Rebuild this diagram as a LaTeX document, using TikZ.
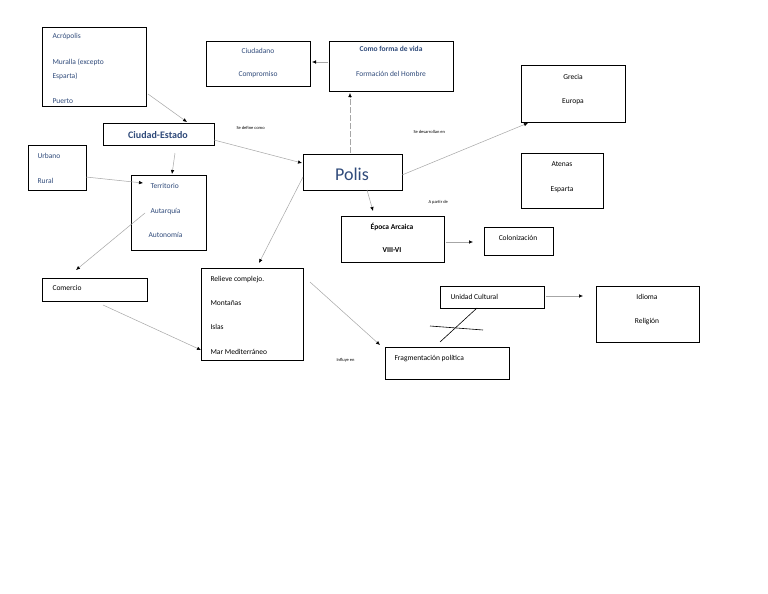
\documentclass[tikz,border=0pt]{standalone}
\usepackage{fontspec}
\setmainfont{Carlito}
\usetikzlibrary{arrows.meta}
\definecolor{tb}{HTML}{2F4A7A}
\begin{document}
\begin{tikzpicture}[x=1pt,y=-1pt,
  box/.style={draw,line width=0.8pt,inner sep=0pt},
  t/.style={font=\fontsize{7.5}{9}\selectfont,anchor=base west},
  tc/.style={font=\fontsize{7.5}{9}\selectfont,anchor=base},
  lb/.style={font=\fontsize{4.5}{5}\selectfont,anchor=base west},
  ar/.style={draw=gray!70,line width=0.5pt,-{Latex[length=4pt,width=3.5pt,color=black]}}]
\useasboundingbox[fill=white] (0,0) rectangle (768,594);
% boxes
\draw[box] (42,27) rectangle (146,106) coordinate (acr);
\node (acro) at (94,66) [minimum width=104pt,minimum height=79pt] {};
\node[t,text=tb] at (49,39) {Acrópolis};
\node[t,text=tb] at (49,64) {Muralla (excepto};
\node[t,text=tb] at (49,78) {Esparta)};
\node[t,text=tb] at (49,103) {Puerto};
\draw[box] (206,41) rectangle (310,86);
\node[tc,text=tb] at (258,53) {Ciudadano};
\node[tc,text=tb] at (258,77) {Compromiso};
\draw[box] (329,41) rectangle (453,91);
\node[tc,text=tb,font=\bfseries\fontsize{7.5}{9}\selectfont] at (391,52) {Como forma de vida};
\node[tc,text=tb] at (391,77) {Formación del Hombre};
\draw[box] (521,65) rectangle (625,122);
\node[tc] at (573,79) {Grecia};
\node[tc] at (573,103) {Europa};
\draw[box] (103,123) rectangle (214,145);
\node[tc,text=tb,font=\bfseries\fontsize{10}{12}\selectfont] at (158,138) {Ciudad-Estado};
\draw[box] (28,145) rectangle (86,190);
\node[t,text=tb] at (34,158) {Urbano};
\node[t,text=tb] at (34,183) {Rural};
\draw[box] (131,175) rectangle (206,250);
\node[t,text=tb] at (147,188) {Territorio};
\node[t,text=tb] at (147,213) {Autarquía};
\node[t,text=tb] at (145,237) {Autonomía};
\draw[box] (303,154) rectangle (402,190);
\node[tc,text=tb,font=\fontsize{18}{20}\selectfont] at (352,180) {Polis};
\draw[box] (521,153) rectangle (603,208);
\node[tc] at (562,166) {Atenas};
\node[tc] at (562,191) {Esparta};
\draw[box] (341,216) rectangle (444,262);
\node[tc,font=\bfseries\fontsize{7.5}{9}\selectfont] at (392,229) {Época Arcaica};
\node[tc,font=\bfseries\fontsize{7.5}{9}\selectfont] at (392,252) {VIII-VI};
\draw[box] (484,227) rectangle (553,255);
\node[tc] at (518,240) {Colonización};
\draw[box] (42,278) rectangle (147,301);
\node[t] at (49,290) {Comercio};
\draw[box] (201,268) rectangle (303,360);
\node[t] at (207,281) {Relieve complejo.};
\node[t] at (207,305) {Montañas};
\node[t] at (207,329) {Islas};
\node[t] at (207,354) {Mar Mediterráneo};
\draw[box] (440,286) rectangle (544,308);
\node[t] at (447,299) {Unidad Cultural};
\draw[box] (596,286) rectangle (699,342);
\node[tc] at (647,299) {Idioma};
\node[tc] at (647,323) {Religión};
\draw[box] (385,347) rectangle (509,379);
\node[t] at (391,360) {Fragmentación política};
% labels
\node[lb] at (233,129) {Se define como};
\node[lb] at (410,133) {Se desarrollan en};
\node[lb] at (425,203) {A partir de};
\node[lb] at (333,361) {Influye en};
% arrows
\draw[ar] (148,94) -- (187,122);
\draw[ar] (214,140) -- (302,163);
\draw[ar,dash pattern=on 6pt off 2pt] (350,153) -- (350,93);
\draw[ar] (328,62) -- (312,62);
\draw[ar] (402,175) -- (528,123);
\draw[ar] (367,190) -- (373,211);
\draw[ar] (446,242) -- (473,242);
\draw[ar] (175,153) -- (172,174);
\draw[ar] (86,177) -- (143,183);
\draw[ar] (145,213) -- (76,270);
\draw[ar] (303,177) -- (259,263);
\draw[ar] (103,305) -- (201,350);
\draw[ar] (310,282) -- (380,345);
\draw[ar] (546,296) -- (583,296);
\draw[line width=0.6pt] (477,308) -- (440,342);
\draw[line width=0.6pt] (430,326) -- (483,330);
\end{tikzpicture}
\end{document}
